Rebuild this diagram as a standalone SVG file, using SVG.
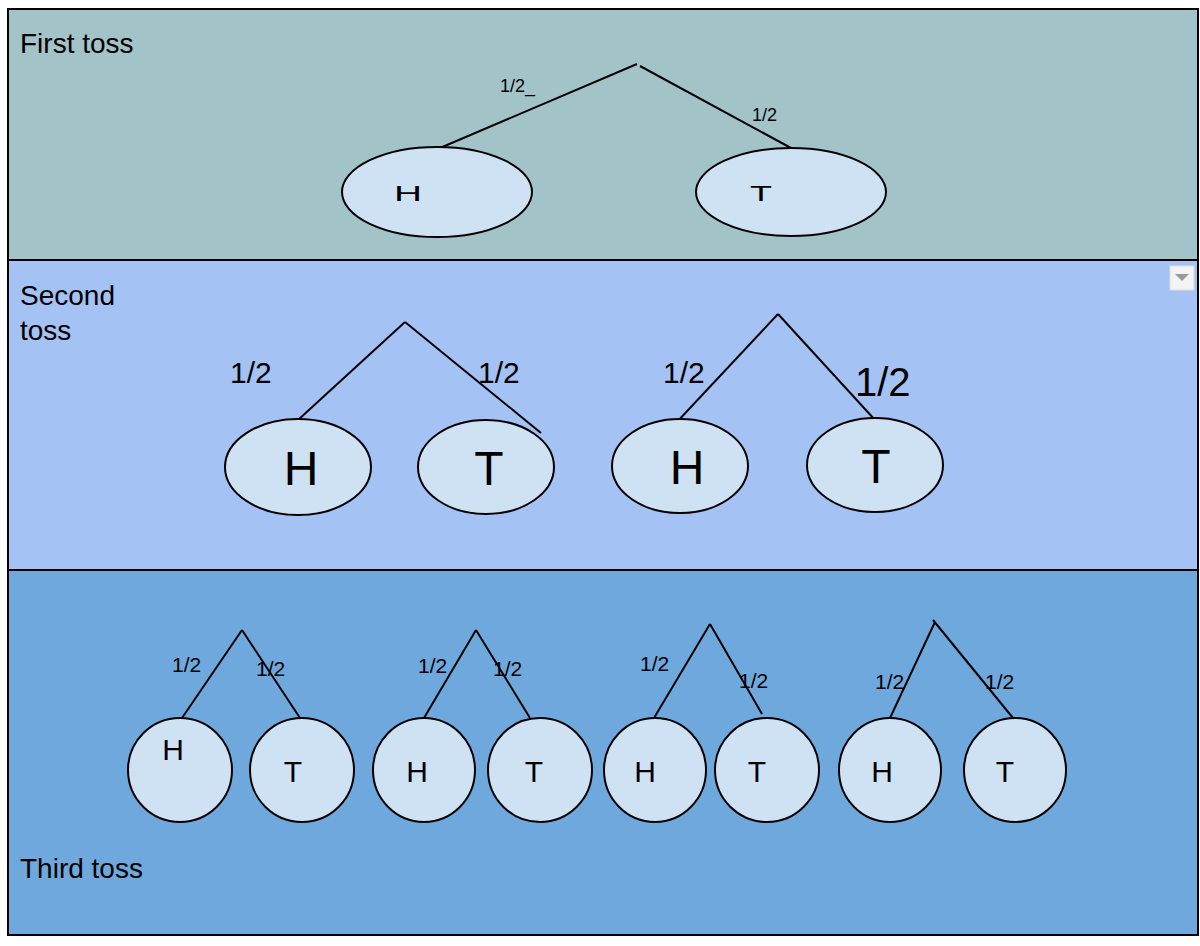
<svg xmlns="http://www.w3.org/2000/svg" width="1200" height="946" viewBox="0 0 1200 946">
<style>
.n{fill:#cfe2f3;stroke:#000;stroke-width:2}
.t{font-family:"Liberation Sans",Arial,sans-serif;fill:#000}
.c line{stroke:#000;stroke-width:2}
</style>
<rect width="1200" height="946" fill="#fff"/>
<g id="panels" stroke="#000" stroke-width="2">
<rect x="8" y="9" width="1190" height="251" fill="#a2c4c9"/>
<rect x="8" y="260" width="1190" height="310" fill="#a4c2f4"/>
<rect x="8" y="570" width="1190" height="365" fill="#6fa8dc"/>
</g>
<rect x="1170" y="266" width="24" height="24" fill="#f3f3f3" stroke="#ddd"/>
<path d="M1175 274h14l-7 7z" fill="#999"/>
<text class="t" x="20" y="53" font-size="28">First toss</text>
<text class="t" x="20" y="305" font-size="28">Second</text>
<text class="t" x="20" y="340" font-size="28">toss</text>
<text class="t" x="20" y="878" font-size="28">Third toss</text>
<g class="c" id="connectors">
<line x1="637" y1="64" x2="440" y2="148"/><line x1="640" y1="66" x2="791" y2="148"/>
<line x1="405" y1="322" x2="298" y2="420"/><line x1="405" y1="322" x2="541" y2="433"/>
<line x1="778" y1="314" x2="676" y2="423"/><line x1="778" y1="314" x2="875" y2="420"/>
<line x1="242" y1="630" x2="182" y2="718"/><line x1="242" y1="630" x2="300" y2="718"/>
<line x1="476" y1="630" x2="424" y2="718"/><line x1="476" y1="630" x2="530" y2="718"/>
<line x1="710" y1="624" x2="654" y2="718"/><line x1="710" y1="624" x2="762" y2="714"/>
<line x1="935" y1="622" x2="890" y2="718"/><line x1="933" y1="620" x2="1013" y2="718"/>
</g>
<g class="t" font-size="18">
<text x="500" y="92">1/2_</text><text x="752" y="121">1/2</text>
</g>
<g class="t" font-size="30">
<text x="230" y="383">1/2</text><text x="478" y="383">1/2</text><text x="663" y="383">1/2</text>
<text x="855" y="396" font-size="40">1/2</text>
</g>
<g class="t" font-size="21">
<text x="172" y="672">1/2</text><text x="256" y="676">1/2</text>
<text x="418" y="673">1/2</text><text x="493" y="676">1/2</text>
<text x="640" y="671">1/2</text><text x="739" y="688">1/2</text>
<text x="875" y="689">1/2</text><text x="985" y="689">1/2</text>
</g>
<g id="n1"><ellipse class="n" cx="437" cy="192" rx="95" ry="45"/><text class="t" x="394" y="201" font-size="22" textLength="28" lengthAdjust="spacingAndGlyphs">H</text></g>
<g id="n2"><ellipse class="n" cx="791" cy="192" rx="95" ry="44"/><text class="t" x="750" y="201" font-size="22" textLength="22" lengthAdjust="spacingAndGlyphs">T</text></g>
<g id="n3"><ellipse class="n" cx="298" cy="467" rx="73" ry="48"/><text class="t" x="301" y="485" font-size="48" text-anchor="middle">H</text></g>
<g id="n4"><ellipse class="n" cx="486" cy="467" rx="68" ry="47"/><text class="t" x="489" y="485" font-size="48" text-anchor="middle">T</text></g>
<g id="n5"><ellipse class="n" cx="680" cy="466" rx="68" ry="47"/><text class="t" x="687" y="484" font-size="48" text-anchor="middle">H</text></g>
<g id="n6"><ellipse class="n" cx="875" cy="465" rx="68" ry="47"/><text class="t" x="876" y="483" font-size="48" text-anchor="middle">T</text></g>
<g font-size="30" text-anchor="middle" class="t">
<g id="n7"><ellipse class="n" cx="180" cy="770" rx="52" ry="52"/><text x="173" y="760">H</text></g>
<g id="n8"><ellipse class="n" cx="302" cy="770" rx="52" ry="52"/><text x="293" y="782">T</text></g>
<g id="n9"><ellipse class="n" cx="424" cy="770" rx="51" ry="52"/><text x="417" y="782">H</text></g>
<g id="n10"><ellipse class="n" cx="540" cy="770" rx="52" ry="52"/><text x="534" y="782">T</text></g>
<g id="n11"><ellipse class="n" cx="655" cy="770" rx="51" ry="52"/><text x="645" y="782">H</text></g>
<g id="n12"><ellipse class="n" cx="767" cy="770" rx="52" ry="52"/><text x="757" y="782">T</text></g>
<g id="n13"><ellipse class="n" cx="890" cy="770" rx="51" ry="52"/><text x="882" y="782">H</text></g>
<g id="n14"><ellipse class="n" cx="1015" cy="770" rx="51" ry="52"/><text x="1005" y="782">T</text></g>
</g>
</svg>
